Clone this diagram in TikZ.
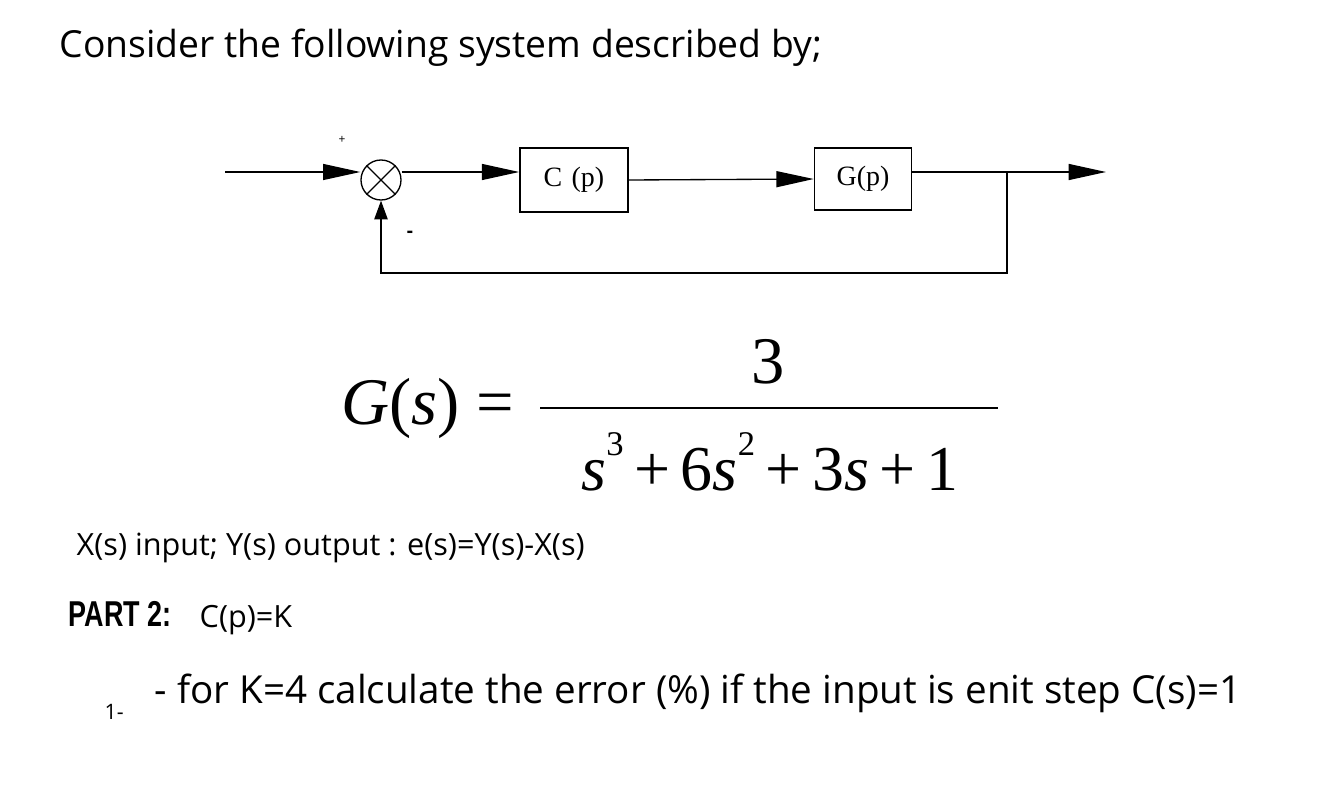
\documentclass[tikz,border=0pt]{standalone}
\usepackage{fontspec}
\setmainfont{Open Sans}
\newfontfamily\serifx{Liberation Serif}
\newfontfamily\condx{Liberation Sans}[FakeStretch=0.75]
\usetikzlibrary{arrows.meta}
\newcommand{\supx}[1]{\raisebox{0.55em}{\fontsize{26}{28}\selectfont #1}}
\begin{document}
\begin{tikzpicture}[x=0.0264cm,y=-0.0264cm]
\useasboundingbox (0,0) rectangle (1343,806);
\node[anchor=west,font=\fontsize{28}{32}\selectfont] (t1) at (55,48) {Consider the following system described by;};
\coordinate (in) at (225,172);
\node[draw,circle,line width=1pt,minimum size=40*0.0264cm,inner sep=0] (sum) at (381,180) {};
\draw[line width=1pt] (sum.45)--(sum.225) (sum.135)--(sum.315);
\node[font=\small] (plus) at (342,140) {+};
\node[font=\Large\bfseries] (minus) at (410,234) {-};
\node[draw,line width=1.2pt,minimum width=108*0.0264cm,minimum height=64*0.0264cm,font=\serifx\fontsize{21}{22}\selectfont] (C) at (574,180) {C\,\,(p)};
\node[draw,line width=1.2pt,minimum width=97*0.0264cm,minimum height=62*0.0264cm,font=\serifx\fontsize{21}{22}\selectfont] (G) at (863,179) {G(p)};
\coordinate (br) at (1007,172);
\coordinate (out) at (1106,172);
\coordinate (d1) at (1007,273);
\coordinate (d2) at (381,273);
\tikzset{arr/.style={line width=1pt,-{Triangle[length=28pt,width=12pt]}}}
\draw[arr] (in) -- (sum.west|-in) ;
\draw[arr] (sum.east|-in) -- (C.west|-in);
\draw[arr] (C.east) -- (G.west);
\draw[line width=1pt] (G.east|-br) -- (br);
\draw[arr] (br) -- (out);
\draw[line width=1pt,-{Triangle[length=14pt,width=10pt]}] (br) -- (d1) -- (d2) -- (sum.south);
\node[font=\serifx\fontsize{50}{54}\selectfont] (lhs) at (428,408) {\textit{G}(\textit{s}) =};
\node[font=\serifx\fontsize{50}{54}\selectfont] (num) at (768,362) {3};
\coordinate (f1) at (540,408);
\coordinate (f2) at (998,408);
\draw[line width=1.5pt] (f1) -- (f2);
\node[font=\serifx\fontsize{48}{52}\selectfont] (den) at (770,462) {\textit{s}\supx{3}\,+\,6\textit{s}\supx{2}\,+\,3\textit{s}\,+\,1};
\node[anchor=west,font=\fontsize{23}{26}\selectfont] (t2) at (72,548) {X(s) input; Y(s) output : e(s)=Y(s)-X(s)};
\node[anchor=west,font=\condx\bfseries\fontsize{27}{30}\selectfont] (t3) at (64,614) {PART 2:};
\node[anchor=west,font=\fontsize{23}{26}\selectfont] (t4) at (195,620) {C(p)=K};
\node[anchor=west,font=\fontsize{16}{18}\selectfont] (t5) at (100,712) {1-};
\node[anchor=west,font=\fontsize{29}{32}\selectfont] (t6) at (150,693) {- for K=4 calculate the error (\%) if the input is enit step C(s)=1};
\end{tikzpicture}
\end{document}
